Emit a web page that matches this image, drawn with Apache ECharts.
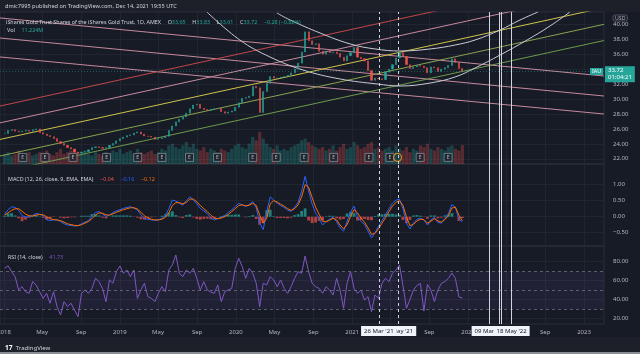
<!DOCTYPE html>
<html>
<head>
<meta charset="utf-8">
<title>IAU</title>
<script src="https://cdn.jsdelivr.net/npm/echarts@6/dist/echarts.min.js"></script>
<style>
html, body { margin: 0; padding: 0; background: #171b26; }
#main { width: 640px; height: 354px; }
</style>
</head>
<body>
<div id="main"></div>
<script>
// closes read every 11 days, 2018-01-03 .. 2021-12-14
const sampleStart = '2018-01-03';
const sampleStepDays = 11;
const closes = [
  25.4, 25.8, 25.9, 25.7, 25.6, 25.7, 25.8, 25.7, 25.9, 26.0,
  25.5, 25.3, 25.1, 24.95, 24.7, 24.3, 24.05, 23.8, 23.5, 23.3,
  22.9, 22.75, 22.9, 22.95, 23.2, 23.5, 23.6, 23.5, 23.4, 23.5,
  23.8, 24.05, 24.4, 24.7, 24.9, 25.1, 25.2, 25.45, 25.6, 25.3,
  25.05, 25.0, 24.9, 24.6, 24.7, 24.8, 25.0, 25.8, 26.4, 26.95,
  27.3, 27.6, 28.1, 28.7, 29.2, 29.3, 28.75, 28.6, 28.5, 28.6,
  28.7, 28.75, 28.3, 28.1, 28.25, 28.4, 28.9, 29.5, 30.1, 30.2,
  30.4, 31.7, 31.5, 28.2, 31.0, 32.1, 33.0, 32.8, 32.8, 32.9,
  33.0, 33.2, 33.5, 34.0, 34.8, 36.3, 39.0, 37.8, 37.3, 37.4,
  36.4, 36.0, 36.4, 36.2, 36.3, 36.1, 35.6, 35.1, 35.8, 36.2,
  36.9, 35.6, 35.4, 35.1, 33.8, 32.5, 32.8, 32.7, 32.6, 33.6,
  34.0, 34.6, 35.5, 36.2, 35.7, 34.6, 34.1, 34.3, 34.5, 34.4,
  34.2, 33.5, 34.3, 34.2, 33.7, 34.0, 34.2, 34.5, 35.4, 34.9,
  34.1, 33.72
];
// volume, millions
const volumes = [
  6, 7, 5, 6, 8, 5, 6, 7, 5, 6,
  7, 6, 8, 6, 5, 7, 9, 6, 7, 8,
  9, 7, 6, 8, 6, 5, 7, 6, 5, 7,
  6, 8, 7, 9, 6, 7, 8, 6, 9, 7,
  6, 7, 8, 6, 7, 9, 8, 11, 12, 10,
  9, 11, 13, 10, 12, 9, 8, 10, 7, 9,
  8, 7, 9, 8, 7, 9, 11, 12, 10, 9,
  12, 16, 14, 19, 15, 12, 10, 9, 11, 8,
  9, 8, 10, 11, 12, 14, 15, 13, 11, 10,
  9, 10, 8, 9, 11, 8, 10, 12, 9, 10,
  13, 11, 9, 10, 12, 13, 9, 10, 8, 9,
  10, 8, 11, 9, 8, 10, 7, 9, 8, 11,
  10, 12, 9, 8, 10, 9, 8, 10, 11, 9,
  8, 11.2
];
const macdLine = [
  0.08, 0.22, 0.31, 0.29, 0.2, 0.03, -0.01, 0.0, 0.04, 0.1,
  0.08, 0.03, -0.09, -0.12, -0.1, -0.1, -0.15, -0.22, -0.26, -0.27,
  -0.29, -0.28, -0.22, -0.17, -0.12, 0.02, 0.13, 0.16, 0.08, 0.01,
  0.05, 0.13, 0.18, 0.22, 0.26, 0.29, 0.31, 0.27, 0.21, 0.06,
  -0.06, -0.08, -0.1, -0.11, -0.1, -0.05, 0.05, 0.25, 0.52, 0.49,
  0.42, 0.36, 0.5, 0.62, 0.53, 0.4, 0.26, 0.18, 0.1, -0.03,
  -0.1, -0.06, -0.02, 0.04, 0.13, 0.22, 0.32, 0.42, 0.37, 0.32,
  0.38, 0.47, 0.28, -0.2, -0.4, 0.15, 0.62, 0.52, 0.42, 0.35,
  0.29, 0.2, 0.17, 0.3, 0.45, 0.8, 1.26, 0.8, 0.4, 0.12,
  -0.05, -0.26, -0.15, -0.08, -0.02, -0.15, -0.35, -0.45, -0.15, 0.15,
  0.33, 0.0, -0.15, -0.24, -0.45, -0.66, -0.5, -0.3, -0.12, 0.06,
  0.25, 0.42, 0.52, 0.55, 0.25, -0.2, -0.38, -0.2, -0.08, -0.05,
  -0.1, -0.26, -0.1, -0.02, -0.18, -0.2, -0.05, 0.1, 0.38, 0.3,
  -0.08, -0.16
];
const signalLine = [
  0.05, 0.12, 0.2, 0.25, 0.25, 0.17, 0.08, 0.03, 0.02, 0.05,
  0.07, 0.06, 0.0, -0.06, -0.09, -0.1, -0.12, -0.17, -0.22, -0.25,
  -0.27, -0.28, -0.25, -0.2, -0.15, -0.06, 0.05, 0.12, 0.11, 0.06,
  0.05, 0.09, 0.14, 0.18, 0.22, 0.25, 0.28, 0.28, 0.24, 0.14,
  0.03, -0.04, -0.08, -0.1, -0.1, -0.08, -0.02, 0.12, 0.35, 0.44,
  0.44, 0.4, 0.45, 0.55, 0.55, 0.47, 0.35, 0.25, 0.16, 0.05,
  -0.04, -0.06, -0.04, 0.0, 0.07, 0.16, 0.25, 0.35, 0.37, 0.34,
  0.36, 0.42, 0.35, 0.05, -0.2, -0.05, 0.4, 0.5, 0.46, 0.39,
  0.33, 0.25, 0.2, 0.25, 0.37, 0.62, 1.0, 0.92, 0.6, 0.3,
  0.08, -0.14, -0.16, -0.11, -0.05, -0.1, -0.26, -0.38, -0.25, 0.0,
  0.22, 0.12, -0.05, -0.17, -0.35, -0.55, -0.52, -0.38, -0.2, -0.03,
  0.16, 0.33, 0.45, 0.5, 0.35, 0.0, -0.28, -0.24, -0.13, -0.08,
  -0.09, -0.2, -0.14, -0.06, -0.13, -0.17, -0.09, 0.03, 0.27, 0.3,
  0.05, -0.12
];
const macdHist = [
  0.03, 0.1, 0.11, 0.04, -0.05, -0.14, -0.09, -0.03, 0.02, 0.05,
  0.01, -0.03, -0.09, -0.06, -0.01, 0.0, -0.03, -0.05, -0.04, -0.02,
  -0.02, 0.0, 0.03, 0.03, 0.03, 0.08, 0.08, 0.04, -0.03, -0.05,
  0.0, 0.04, 0.04, 0.04, 0.04, 0.04, 0.03, -0.01, -0.03, -0.08,
  -0.09, -0.04, -0.02, -0.01, 0.0, 0.03, 0.07, 0.13, 0.17, 0.05,
  -0.02, -0.04, 0.05, 0.07, -0.02, -0.07, -0.09, -0.07, -0.06, -0.08,
  -0.06, 0.0, 0.02, 0.04, 0.06, 0.06, 0.07, 0.07, 0.0, -0.02,
  0.02, 0.05, -0.07, -0.25, -0.2, 0.2, 0.22, 0.02, -0.04, -0.04,
  -0.04, -0.05, -0.03, 0.05, 0.08, 0.18, 0.26, -0.12, -0.2, -0.18,
  -0.13, -0.12, 0.01, 0.03, 0.03, -0.05, -0.09, -0.07, 0.1, 0.15,
  0.11, -0.12, -0.1, -0.07, -0.1, -0.11, 0.02, 0.08, 0.08, 0.09,
  0.09, 0.09, 0.07, 0.05, -0.1, -0.2, -0.1, 0.04, 0.05, 0.03,
  -0.01, -0.06, 0.04, 0.04, -0.05, -0.03, 0.04, 0.07, 0.11, 0.0,
  -0.13, -0.04
];
const rsiValues = [
  73, 75.7, 69.5, 64.2, 50.2, 53.7, 48.4, 46.7, 59, 55.5,
  48.4, 41.4, 46.7, 36.2, 48.4, 32.7, 23.9, 37.9, 32.7, 36.2,
  29.1, 22.1, 46.7, 50.2, 46.7, 51.9, 62.5, 59, 51.9, 37.9,
  60.8, 57.3, 69.5, 75.5, 67.8, 71.3, 64.2, 71.3, 41.4, 50.2,
  57.3, 43.2, 41.4, 37.9, 46.7, 53.7, 48.4, 71.3, 76.6, 87.1,
  67.8, 64.2, 71.3, 67.8, 73, 62.5, 50, 59, 50.2, 48,
  46.7, 55.5, 37.9, 48.4, 50.2, 51.9, 73, 83.6, 74.8, 62.5,
  73, 67.8, 57.3, 32.7, 57.3, 55.5, 64.2, 60.8, 53.7, 60.8,
  51.9, 46.7, 53.7, 62.5, 69.5, 67.8, 86, 69.5, 57.3, 53.7,
  51.9, 46.7, 53.7, 50.2, 44.9, 62.5, 50.2, 31, 57.3, 69.5,
  52, 46.7, 50.2, 39.6, 43.2, 27.4, 44.9, 41.4, 57.3, 62.5,
  59, 67.8, 71.3, 76.6, 55, 31, 40, 50.2, 55, 57,
  28, 56, 50, 38, 50.2, 57.3, 59, 62.5, 68, 62.5,
  43, 41.7
];

const priceTicks = [22, 24, 26, 28, 30, 32, 34, 36, 38, 40];
const macdTicks = [-0.5, 0, 0.5, 1];
const rsiTicks = [20, 40, 60, 80];
const rsiLevels = [30, 50, 70];
const timeTicks = [
  '2018-01-01', '2018-05-01', '2018-09-01', '2019-01-01', '2019-05-01', '2019-09-01',
  '2020-01-01', '2020-05-01', '2020-09-01', '2021-01-01', '2021-05-01', '2021-09-01',
  '2022-01-01', '2022-05-01', '2022-09-01', '2023-01-01'
];
const monthNames = { 4: 'May', 8: 'Sep' };

// earnings flags and the split flag
const eventDates = [
  '2018-03-01', '2018-05-10', '2018-08-06', '2018-11-20', '2019-02-26', '2019-05-13',
  '2019-08-08', '2019-11-04', '2020-02-23', '2020-05-07', '2020-08-03', '2020-11-04',
  '2021-02-23', '2021-04-30', '2021-08-03', '2021-10-30'
];
const splitDate = '2021-05-24';

// vertical marker lines
const dashedDates = ['2021-05-26', '2021-03-26'];
const solidDates = ['2022-04-10', '2022-04-16', '2022-03-09', '2022-05-18'];
const dateLabels = {
  '2021-03-26': "26 Mar '21", '2021-05-26': "26 May '21",
  '2022-03-09': "09 Mar '22", '2022-05-18': "18 May '22"
};

// hand drawn lines: [decimal year, price]
const channelRed = [[2017.9655, 29.06], [2023.1724, 46.69]];
const channelPink = [[2017.9655, 26.81], [2023.1724, 44.44]];
const channelYellow = [[2017.9655, 24.59], [2023.1724, 42.22]];
const channelGreenHigh = [[2017.9655, 22.37], [2023.1724, 40.0]];
const channelGreenLow = [[2017.9655, 20.2], [2023.1724, 37.83]];
const fallingA = [[2017.9655, 40.85], [2023.1724, 33.08]];
const fallingB = [[2017.9655, 38.17], [2023.1724, 30.40]];
const fallingC = [[2017.9655, 35.63], [2023.1724, 27.99]];
const arcOuter = [
  [2019.75, 41.65], [2020.034, 37.9], [2020.293, 35.63], [2020.578, 33.88], [2020.897, 32.68],
  [2021.216, 32.01], [2021.414, 31.74], [2021.672, 32.14], [2021.888, 32.95], [2022.06, 34.15],
  [2022.276, 35.89], [2022.509, 37.9], [2022.707, 39.78], [2022.879, 41.65]
];
const arcInner = [
  [2020.353, 41.52], [2020.466, 40.58], [2020.724, 38.84], [2020.983, 37.37], [2021.198, 36.7],
  [2021.414, 36.43], [2021.672, 36.7], [2021.888, 37.23], [2022.06, 37.9], [2022.276, 39.24],
  [2022.448, 40.58], [2022.603, 41.65]
];

const lastClose = 33.72;
const countdown = '01:04:21';

const DAY = 86400000;
const font = 'Noto Sans';
function day(s) { const p = s.split('-').map(Number); return Date.UTC(p[0], p[1] - 1, p[2]); }
function decYear(v) {
  const y = Math.floor(v);
  const a = Date.UTC(y, 0, 1), b = Date.UTC(y + 1, 0, 1);
  return a + (v - y) * (b - a);
}
const t0 = day(sampleStart);
const times = closes.map((_, i) => t0 + i * sampleStepDays * DAY);
const xMin = decYear(2017.9655), xMax = decYear(2023.1724);

const candles = closes.map((c, i) => {
  const o = i ? closes[i - 1] : c;
  return [times[i], o, c, Math.min(o, c), Math.max(o, c)];
});
const volBars = volumes.map((v, i) => ({
  value: [times[i], v],
  itemStyle: { color: (i && closes[i] < closes[i - 1]) ? 'rgba(239,83,80,0.3)' : 'rgba(38,166,154,0.3)' }
}));
const histBars = macdHist.map((v, i) => ({
  value: [times[i], v],
  itemStyle: { color: v >= 0 ? 'rgba(38,166,154,0.75)' : 'rgba(239,83,80,0.7)' }
}));

function fmt(v) { return (v < 0 ? '\u2212' : '') + Math.abs(v).toFixed(2); }

function xAxisFor(g, show) {
  return {
    type: 'value', gridIndex: g, min: xMin, max: xMax, scale: true,
    axisLine: { show: false }, axisTick: { show: false }, splitLine: { show: false },
    axisLabel: show ? {
      customValues: timeTicks.map(day), color: '#b2b5be', fontSize: 6, fontFamily: font, margin: 5,
      formatter: function (v) {
        const d = new Date(v), m = d.getUTCMonth();
        return m === 0 ? String(d.getUTCFullYear()) : monthNames[m];
      }
    } : { show: false }
  };
}
function yAxisFor(g, min, max, ticks) {
  return {
    type: 'value', gridIndex: g, position: 'right', min: min, max: max,
    axisLine: { show: false }, axisTick: { show: false }, splitLine: { show: false },
    axisLabel: { customValues: ticks, formatter: fmt, color: '#b2b5be', fontSize: 6, fontFamily: font, margin: 9 }
  };
}
function guide(g, yi, ticks) {
  return {
    type: 'line', xAxisIndex: g, yAxisIndex: yi, data: [], silent: true, z: 0,
    markLine: {
      silent: true, symbol: 'none', z: 0, animation: false, label: { show: false },
      lineStyle: { color: '#212532', width: 1, type: 'solid' },
      data: timeTicks.map(t => ({ xAxis: day(t) })).concat(ticks.map(v => ({ yAxis: v })))
    }
  };
}
function markers(g, yi, withLabels) {
  const items = [];
  dashedDates.forEach(d => items.push({
    xAxis: day(d), lineStyle: { color: '#d1d4dc', width: 1, type: [3, 3] },
    label: withLabels && dateLabels[d] ? { show: true, formatter: dateLabels[d] } : { show: false }
  }));
  solidDates.forEach(d => items.push({
    xAxis: day(d), lineStyle: { color: '#d1d4dc', width: 1, type: 'solid' },
    label: withLabels && dateLabels[d] ? { show: true, formatter: dateLabels[d] } : { show: false }
  }));
  return {
    type: 'line', xAxisIndex: g, yAxisIndex: yi, data: [], silent: true, z: 6,
    markLine: {
      silent: true, symbol: 'none', z: 6, animation: false,
      label: {
        position: 'start', distance: 2, color: '#131722', backgroundColor: '#f0f3fa',
        padding: [2, 3, 2, 3], fontSize: 6, fontFamily: font
      },
      data: items
    }
  };
}
function drawing(points, color, smooth) {
  return {
    type: 'line', xAxisIndex: 0, yAxisIndex: 0, silent: true, z: 3,
    data: points.map(p => [decYear(p[0]), p[1]]),
    showSymbol: false, symbol: 'none', smooth: smooth ? 0.4 : false,
    lineStyle: { color: color, width: 1 }
  };
}
function pane(top, height) {
  return {
    left: 0, right: 36, top: top, height: height, outerBoundsMode: 'none', containLabel: false,
    show: true, borderColor: '#2a2e39', borderWidth: 1
  };
}

const chart = echarts.init(document.getElementById('main'), null, { renderer: 'canvas' });
chart.setOption({
  animation: false,
  backgroundColor: '#171b26',
  grid: [pane(12, 152), pane(164, 82), pane(246, 78)],
  xAxis: [xAxisFor(0, false), xAxisFor(1, false), xAxisFor(2, true)],
  yAxis: [
    yAxisFor(0, 21.3, 41.65, priceTicks),
    { type: 'value', gridIndex: 0, min: 0, max: 90, show: false },
    yAxisFor(1, -0.915, 1.647, macdTicks),
    yAxisFor(2, 14.4, 96.5, rsiTicks)
  ],
  series: [
    guide(0, 0, priceTicks),
    guide(1, 2, macdTicks),
    Object.assign(guide(2, 3, rsiTicks), {
      markArea: {
        silent: true, animation: false, itemStyle: { color: 'rgba(126,87,194,0.1)' },
        data: [[{ yAxis: rsiLevels[0] }, { yAxis: rsiLevels[2] }]]
      }
    }),
    {
      type: 'line', xAxisIndex: 2, yAxisIndex: 3, data: [], silent: true, z: 1,
      markLine: {
        silent: true, symbol: 'none', animation: false, label: { show: false },
        lineStyle: { color: 'rgba(120,123,134,0.7)', width: 1, type: [3, 3] },
        data: rsiLevels.map(v => ({ yAxis: v }))
      }
    },
    { type: 'bar', xAxisIndex: 0, yAxisIndex: 1, data: volBars, barWidth: 3.2, silent: true, z: 1 },
    drawing(fallingA, '#c58a9c'),
    drawing(fallingB, '#c58a9c'),
    drawing(fallingC, '#c58a9c'),
    drawing(channelRed, '#c2474b'),
    drawing(channelPink, '#c98a9c'),
    drawing(channelYellow, '#cfc34a'),
    drawing(channelGreenHigh, '#86a54e'),
    drawing(channelGreenLow, '#6e9a4c'),
    drawing(arcOuter, '#c9cbd1', true),
    drawing(arcInner, '#c9cbd1', true),
    {
      type: 'candlestick', xAxisIndex: 0, yAxisIndex: 0, data: candles, barWidth: 1.6, z: 4, silent: true,
      itemStyle: { color: '#26a69a', color0: '#ef5350', borderColor: '#26a69a', borderColor0: '#ef5350', borderWidth: 0.5 },
      markLine: {
        silent: true, symbol: 'none', animation: false, z: 7,
        lineStyle: { color: 'rgba(38,166,154,0.45)', width: 1, type: [1, 2] },
        label: {
          position: 'end', distance: 1, offset: [0, 3], formatter: lastClose.toFixed(2) + '\n' + countdown,
          color: '#ffffff', backgroundColor: '#26a69a', fontSize: 6, lineHeight: 7,
          padding: [1, 3, 1, 3], fontFamily: font
        },
        data: [{ yAxis: lastClose }]
      }
    },
    {
      type: 'scatter', xAxisIndex: 0, yAxisIndex: 1, silent: true, z: 5,
      data: eventDates.map(d => [day(d), 3.9]),
      symbol: 'rect', symbolSize: [8, 8],
      itemStyle: { color: '#1e222d', borderColor: '#868993', borderWidth: 1 },
      label: { show: true, position: 'inside', formatter: 'E', color: '#d1d4dc', fontSize: 5, fontFamily: font }
    },
    {
      type: 'scatter', xAxisIndex: 0, yAxisIndex: 1, silent: true, z: 5,
      data: [[day(splitDate), 3.9]], symbol: 'circle', symbolSize: 8,
      itemStyle: { color: 'rgba(0,0,0,0)', borderColor: '#f7931a', borderWidth: 1.2 }
    },
    { type: 'bar', xAxisIndex: 1, yAxisIndex: 2, data: histBars, barWidth: 2.8, silent: true, z: 2 },
    {
      type: 'line', xAxisIndex: 1, yAxisIndex: 2, data: macdLine.map((v, i) => [times[i], v]),
      showSymbol: false, silent: true, z: 3, lineStyle: { color: '#2962ff', width: 1 }
    },
    {
      type: 'line', xAxisIndex: 1, yAxisIndex: 2, data: signalLine.map((v, i) => [times[i], v]),
      showSymbol: false, silent: true, z: 3, lineStyle: { color: '#ff6d00', width: 1 }
    },
    {
      type: 'line', xAxisIndex: 2, yAxisIndex: 3, data: rsiValues.map((v, i) => [times[i], v]),
      showSymbol: false, silent: true, z: 3, lineStyle: { color: '#7e57c2', width: 1 }
    },
    markers(0, 0, false),
    markers(1, 2, false),
    markers(2, 3, true)
  ],
  graphic: [
    { type: 'rect', silent: true, z: -10, shape: { x: 0, y: 0, width: 640, height: 12 }, style: { fill: '#1e2029' } },
    { type: 'rect', silent: true, z: -10, shape: { x: 0, y: 337, width: 640, height: 17 }, style: { fill: '#1e2029' } },
    { type: 'rect', silent: true, z: -10, shape: { x: 0, y: 352, width: 640, height: 2 }, style: { fill: '#8a8d96' } },
    {
      type: 'text', x: 5, y: 3, z: 100, silent: true,
      style: { text: 'dmic7995 published on TradingView.com, Dec 14, 2021 19:55 UTC', fill: '#d1d4dc', font: '5.6px "Noto Sans"' }
    },
    {
      type: 'text', x: 6, y: 16, z: 100, silent: true,
      style: {
        text: '{t|iShares Gold Trust Shares of the iShares Gold Trust, 1D, AMEX}  {k|O}{v|33.65}  {k|H}{v|33.83}  {k|L}{v|33.61}  {k|C}{v|33.72}  {v|\u22120.28 (\u22120.82%)}',
        rich: {
          t: { fill: '#d1d4dc', font: '5.4px "Noto Sans"' },
          k: { fill: '#d1d4dc', font: '5.4px "Noto Sans"' },
          v: { fill: '#26a69a', font: '5.4px "Noto Sans"' }
        }
      }
    },
    {
      type: 'text', x: 7, y: 24, z: 100, silent: true,
      style: {
        text: '{k|Vol}  {v|11.224M}',
        rich: { k: { fill: '#d1d4dc', font: '5.4px "Noto Sans"' }, v: { fill: '#26a69a', font: '5.4px "Noto Sans"' } }
      }
    },
    {
      type: 'text', x: 8, y: 173, z: 100, silent: true,
      style: {
        text: '{k|MACD (12, 26, close, 9, EMA, EMA)}  {r|\u22120.04}  {b|\u22120.16}  {o|\u22120.12}',
        rich: {
          k: { fill: '#d1d4dc', font: '5.4px "Noto Sans"' },
          r: { fill: '#ef5350', font: '5.4px "Noto Sans"' },
          b: { fill: '#2962ff', font: '5.4px "Noto Sans"' },
          o: { fill: '#ff6d00', font: '5.4px "Noto Sans"' }
        }
      }
    },
    {
      type: 'text', x: 8, y: 251, z: 100, silent: true,
      style: {
        text: '{k|RSI (14, close)}  {p|41.73}',
        rich: { k: { fill: '#d1d4dc', font: '5.4px "Noto Sans"' }, p: { fill: '#7e57c2', font: '5.4px "Noto Sans"' } }
      }
    },
    {
      type: 'text', x: 613, y: 15, z: 100, silent: true,
      style: { text: 'USD', fill: '#b2b5be', font: '5.2px "Noto Sans"', borderColor: '#50535e', borderWidth: 1, borderRadius: 2, padding: [1, 2, 0, 2] }
    },
    {
      type: 'text', x: 590, y: 68, z: 100, silent: true,
      style: { text: 'IAU', fill: '#ffffff', font: '5.4px "Noto Sans"', backgroundColor: '#26a69a', padding: [1, 2, 1, 2] }
    },
    {
      type: 'text', x: 5, y: 342, z: 100, silent: true,
      style: {
        text: '{l|17} {n|TradingView}',
        rich: { l: { fill: '#ffffff', font: 'bold 6.5px "Noto Sans"' }, n: { fill: '#d1d4dc', font: '6px "Noto Sans"' } }
      }
    }
  ]
});
</script>
</body>
</html>
